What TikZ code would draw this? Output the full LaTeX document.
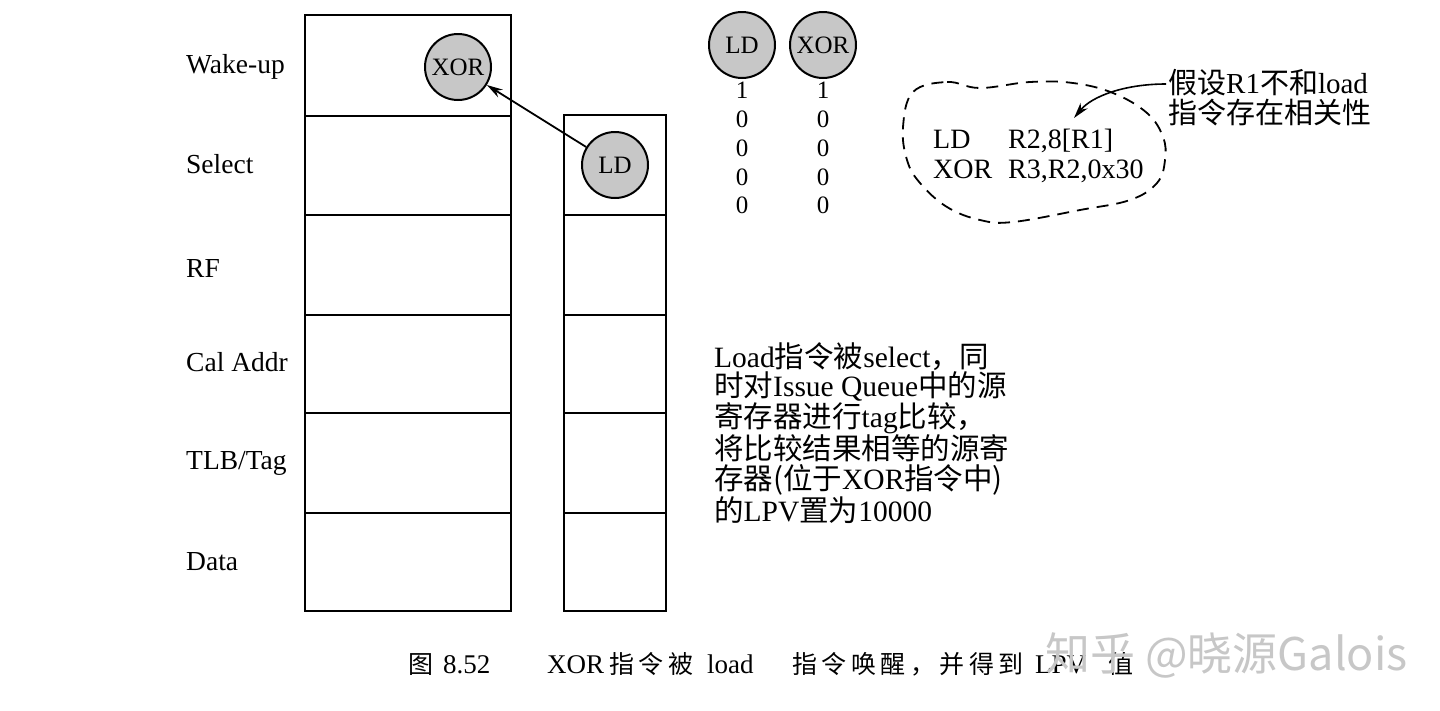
\documentclass[tikz,border=0pt]{standalone}
\usepackage{fontspec}
\setmainfont{Liberation Serif}
\newfontfamily\cjk{Noto Sans CJK SC}
\newfontfamily\cjkwide{Noto Sans CJK SC}[LetterSpace=18]
\usetikzlibrary{arrows.meta}
\newcommand\zh[1]{{\cjk #1}}
\newcommand\zc[1]{{\cjk\fontsize{25}{28}\selectfont #1}}
\newcommand\zw[1]{{\cjkwide\fontsize{25}{28}\selectfont #1}}
\begin{document}
\begin{tikzpicture}[x=1pt,y=-1pt,
  frame/.style={line width=2pt},
  lab/.style={anchor=west,font=\fontsize{27.5}{30}\selectfont,inner sep=0pt},
  op/.style={circle,draw,line width=2pt,fill=black!22,minimum size=66pt,inner sep=0pt,font=\fontsize{25}{27}\selectfont},
  bit/.style={font=\fontsize{25}{27}\selectfont,inner sep=0pt},
  txt/.style={font=\fontsize{28}{29.5}\selectfont,inner sep=0pt,align=left},
  arr/.style={line width=1.8pt,-{Stealth[length=16pt,width=9pt]}}
]
\useasboundingbox (0,0) rectangle (1440,710);
% left pipeline box
\draw[frame] (305,15) rectangle (511,611);
\foreach \y in {116,215,315,413,513} \draw[frame] (305,\y) -- (511,\y);
% right box
\draw[frame] (564,115) rectangle (666,611);
\foreach \y in {215,315,413,513} \draw[frame] (564,\y) -- (666,\y);
% stage labels
\node[lab] (l1) at (186,67) {Wake-up};
\node[lab] (l2) at (186,164) {Select};
\node[lab] (l3) at (186,268) {RF};
\node[lab] (l4) at (186,362) {Cal Addr};
\node[lab] (l5) at (186,463) {TLB/Tag};
\node[lab] (l6) at (186,562) {Data};
% circles in pipeline
\node[op] (xor) at (458,67) {XOR};
\node[op] (ld) at (615,165) {LD};
\draw[arr] (ld) -- (xor);
% LPV columns
\node[op] (ld2) at (742,45) {LD};
\node[op] (xor2) at (823,45) {XOR};
\foreach \v/\y [count=\i] in {1/90,0/119,0/148,0/177,0/205}{
  \node[bit] (a\i) at (742,\y) {\v};
  \node[bit] (b\i) at (823,\y) {\v};
}
% dashed blob with code
\draw[dashed,dash pattern=on 12pt off 8pt,line width=1.8pt] plot[smooth cycle,tension=0.65] coordinates {
 (913,92) (947,82) (980,88) (1030,82) (1073,83) (1113,93) (1147,113) (1163,137)
 (1165,160) (1157,183) (1130,200) (1080,210) (1013,222) (980,220) (947,207)
 (920,183) (907,160) (903,127)};
\node[txt,anchor=base west] (c1) at (933,148) {LD};
\node[txt,anchor=base west] (c2) at (1008,148) {R2,8[R1]};
\node[txt,anchor=base west] (c3) at (933,178) {XOR};
\node[txt,anchor=base west] (c4) at (1008,178) {R3,R2,0x30};
% annotation
\node[txt,anchor=north west,font=\fontsize{29}{30}\selectfont] (ann) at (1168,69) {\zh{假设}R1\zh{不和}load\\\zh{指令存在相关性}};
\coordinate (tip) at (1074,118);
\draw[arr,line width=1.6pt] (1166,84) .. controls (1125,84) and (1092,96) .. (tip);
% note
\node[txt,anchor=north west,font=\fontsize{29.5}{29.6}\selectfont] (note) at (714,342) {Load\zh{指令被}select\zh{，同}\\\zh{时对}Issue Queue\zh{中的源}\\\zh{寄存器进行}tag\zh{比较，}\\\zh{将比较结果相等的源寄}\\\zh{存器(位于}XOR\zh{指令中)}\\\zh{的}LPV\zh{置为}10000};
% caption
\node[anchor=base west,inner sep=0pt,font=\fontsize{27}{28}\selectfont] (cap) at (408,673) {\makebox[35pt][l]{\zc{图}}\makebox[104pt][l]{8.52}\makebox[62pt][l]{XOR}\makebox[98pt][l]{\zw{指令被}}\makebox[85pt][l]{load}\makebox[243pt][l]{\zw{指令唤醒，并得到}}\makebox[73pt][l]{LPV}\zc{值}};
\node[anchor=west,inner sep=0pt,text=black!22,font=\cjk\fontsize{45}{47}\selectfont] (wm) at (1045,655) {知乎 @晓源Galois};
\end{tikzpicture}
\end{document}
